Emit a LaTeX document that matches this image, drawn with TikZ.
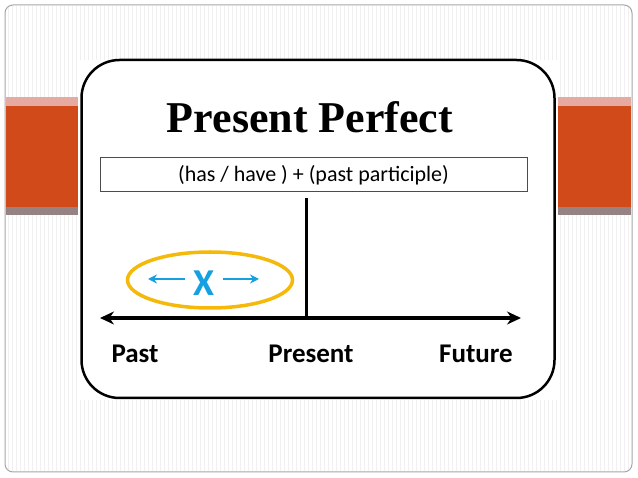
\documentclass[tikz,border=0pt]{standalone}
\usepackage{fontspec}
\setmainfont{Carlito}
\newfontfamily\timesf{Liberation Serif}
\usetikzlibrary{arrows.meta,shapes.geometric}
\definecolor{band}{RGB}{208,74,26}
\definecolor{bandtop}{RGB}{230,170,160}
\definecolor{bandbot}{RGB}{150,130,130}
\definecolor{xblue}{RGB}{20,160,225}
\definecolor{ellc}{RGB}{245,185,10}
\begin{document}
\begin{tikzpicture}[x=1pt,y=-1pt,
  lbl/.style={font=\fontsize{27}{30}\selectfont\bfseries},
  blu/.style={draw=xblue,line width=2.5pt,-{Stealth[length=9pt,width=9pt]}}]
\useasboundingbox (0,0) rectangle (638,478);
\fill[white] (0,0) rectangle (638,478);
\foreach \i in {8,12,...,630} \draw[gray!12,line width=0.6pt] (\i,6) -- (\i,471);
\draw[gray!70,line width=1pt,rounded corners=8pt] (5,5) rectangle (632,472);
\fill[bandtop] (6,97) rectangle (631,106);
\fill[band] (6,106) rectangle (631,207);
\fill[bandbot] (6,207) rectangle (631,215);
\fill[white] (78,60) rectangle (558,400);
\node[draw=black,line width=2.5pt,rounded corners=38pt,minimum width=473pt,minimum height=338pt] (card) at (318,229) {};
\node (title) at (310,117) {\timesf\bfseries\fontsize{44}{48}\selectfont Present Perfect};
\node[draw=black!70,line width=1pt,minimum width=427pt,minimum height=34pt,font=\fontsize{22}{24}\selectfont] (formula) at (313.5,175) {(has / have ) + (past participle)};
\coordinate (L) at (100,318); \coordinate (R) at (521,318);
\coordinate (vt) at (306,198); \coordinate (vb) at (306,318);
\draw[line width=3pt] (vt) -- (vb);
\draw[line width=3.2pt,{Stealth[length=14pt,width=13pt]}-{Stealth[length=14pt,width=13pt]}] (L) -- (R);
\node[draw=ellc,line width=3.5pt,ellipse,minimum width=165pt,minimum height=56pt] (ell) at (210,280) {};
\node[text=xblue,font=\fontsize{38}{40}\selectfont\bfseries] (X) at (204,283) {X};
\coordinate (a1) at (185,279); \coordinate (a2) at (148,279);
\coordinate (b1) at (223,279); \coordinate (b2) at (259,279);
\draw[blu] (a1) -- (a2);
\draw[blu] (b1) -- (b2);
\node[lbl] (past) at (135,354) {Past};
\node[lbl] (present) at (311,354) {Present};
\node[lbl] (future) at (476,354) {Future};
\end{tikzpicture}
\end{document}
